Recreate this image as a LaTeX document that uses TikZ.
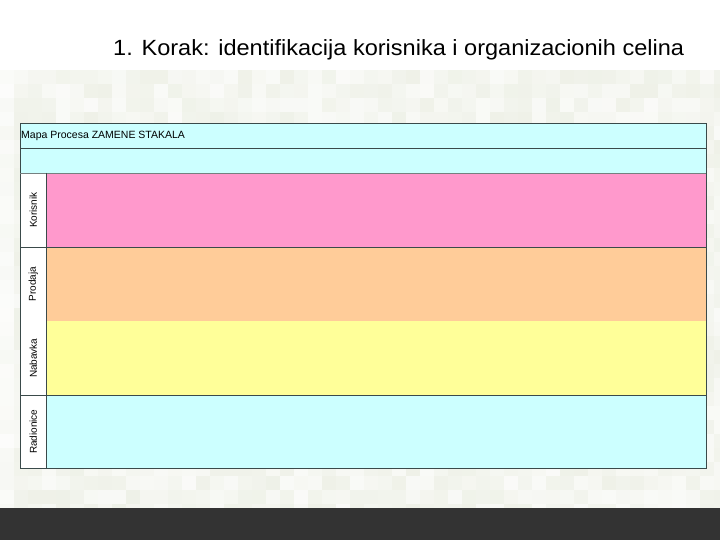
\documentclass[tikz,border=0pt]{standalone}
\usepackage{fontspec}
\setmainfont{Liberation Sans}
\usetikzlibrary{positioning}
\definecolor{lanecyan}{HTML}{CCFFFF}
\definecolor{lanepink}{HTML}{FF99CC}
\definecolor{laneorange}{HTML}{FFCC99}
\definecolor{laneyellow}{HTML}{FFFF99}
\definecolor{backdrop}{HTML}{ECEFE4}
\definecolor{footbar}{HTML}{333333}
\definecolor{rule}{HTML}{3A4A4A}

\begin{document}
\begin{tikzpicture}[x=1pt,y=-1pt,
    lane/.style={rectangle,inner sep=0pt,minimum width=660pt,minimum height=74pt,anchor=north west},
    lanelabel/.style={rectangle,fill=white,inner sep=0pt,minimum width=26pt,minimum height=74pt,anchor=north west},
    tag/.style={rotate=90,inner sep=0pt,font=\fontsize{10}{11}\selectfont}]
    \useasboundingbox (0,0) rectangle (720,540);
    \fill[white] (0,0) rectangle (720,540);

    % mosaic backdrop
    \fill[backdrop] (0,70) rectangle (720,508);
    \pgfmathsetseed{11}
    \foreach \i in {0,...,51}
        \foreach \j in {0,...,31}{
            \pgfmathsetmacro\o{0.15+0.6*rnd}
            \fill[white,opacity=\o] (\i*14,70+\j*14) rectangle ++(14,14);
        }
    \fill[white,opacity=0.5] (0,70) rectangle (14,508);
    \fill[footbar] (0,508) rectangle (720,540);

    % title
    \node[anchor=base west,inner sep=0pt,xscale=1.07,transform shape,font=\fontsize{22}{26}\selectfont] (title) at (113,56)
        {1. Korak: identifikacija korisnika i organizacionih celina};

    % process map
    \node[rectangle,fill=lanecyan,inner sep=0pt,minimum width=686pt,minimum height=25pt,anchor=north west] (head) at (20,123) {};
    \node[anchor=base west,inner sep=0pt,font=\fontsize{10.5}{12}\selectfont] (headtext) at (21,139) {Mapa Procesa ZAMENE STAKALA};
    \node[rectangle,fill=lanecyan,inner sep=0pt,minimum width=686pt,minimum height=25pt,anchor=north west] (blank) at (20,148) {};

    \node[lanelabel] (lk) at (20,173) {};
    \node[lane,fill=lanepink] (kor) at (46,173) {};
    \node[lanelabel] (lp) at (20,247) {};
    \node[lane,fill=laneorange] (pro) at (46,247) {};
    \node[lanelabel] (ln) at (20,321) {};
    \node[lane,fill=laneyellow] (nab) at (46,321) {};
    \node[lanelabel,minimum height=73pt] (lr) at (20,395) {};
    \node[lane,fill=lanecyan,minimum height=73pt] (rad) at (46,395) {};

    \node[tag] at (lk) {Korisnik};
    \node[tag] at (lp) {Prodaja};
    \node[tag] at (ln) {Nabavka};
    \node[tag] at (lr) {Radionice};

    % frame and rules
    \draw[rule,semithick] (head.north west) rectangle (rad.south east);
    \draw[rule,semithick] (head.south west) -- (head.south east);
    \draw[rule!70] (lk.north west) -- (kor.north east);
    \draw[rule,semithick] (lk.south west) -- (kor.south east);
    \draw[rule,semithick] (lr.north west) -- (rad.north east);
    \draw[rule,semithick] (lk.north east) -- (lr.south east);
\end{tikzpicture}
\end{document}
